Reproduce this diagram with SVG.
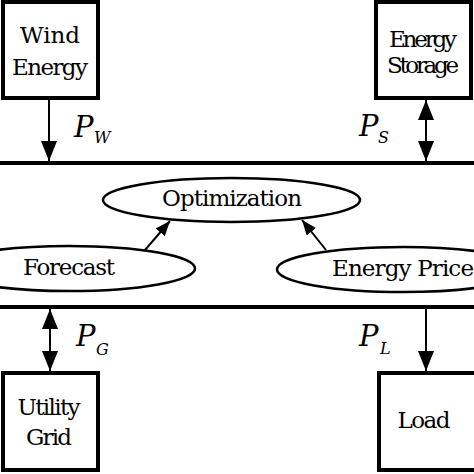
<svg xmlns="http://www.w3.org/2000/svg" width="474" height="474" viewBox="0 0 474 474">
<style>
.box{fill:#fff;stroke:#000;stroke-width:4}
.ell{fill:#fff;stroke:#000;stroke-width:2.5}
.bus{stroke:#000;stroke-width:4}
.con{stroke:#000;stroke-width:2;fill:none}
text{font-family:"DejaVu Serif","Liberation Serif",serif}
.lbl{font-size:23px;text-anchor:middle}
.p{font-size:29px;font-style:italic}
.sub{font-size:16px;font-style:italic}
</style>
<defs>
<marker id="ah" markerUnits="userSpaceOnUse" markerWidth="20" markerHeight="18" refX="20" refY="9" orient="auto-start-reverse">
<path d="M0,1 L20,9 L0,17 Z" fill="#000"/>
</marker>
<marker id="as" markerUnits="userSpaceOnUse" markerWidth="15" markerHeight="12" refX="15" refY="6" orient="auto">
<path d="M0,0 L15,6 L0,12 Z" fill="#000"/>
</marker>
</defs>
<g id="buses">
<line class="bus" x1="0" y1="163" x2="474" y2="163"/>
<line class="bus" x1="0" y1="307" x2="474" y2="307"/>
</g>
<g id="wind">
<rect class="box" x="3" y="2" width="95" height="96"/>
<text class="lbl" x="50" y="43" textLength="60">Wind</text>
<text class="lbl" x="50" y="75" textLength="76">Energy</text>
</g>
<g id="storage">
<rect class="box" x="376" y="2" width="95" height="96"/>
<text class="lbl" x="423" y="47" font-size="21" textLength="68">Energy</text>
<text class="lbl" x="423" y="73" font-size="21" textLength="72">Storage</text>
</g>
<g id="grid">
<rect class="box" x="3" y="373" width="95" height="97"/>
<text class="lbl" x="49" y="415" font-size="22" textLength="63">Utility</text>
<text class="lbl" x="49" y="445" font-size="22" textLength="46">Grid</text>
</g>
<g id="load">
<rect class="box" x="379" y="373" width="100" height="97"/>
<text class="lbl" x="424" y="428" textLength="53">Load</text>
</g>
<g id="optimization">
<ellipse class="ell" cx="231.5" cy="200" rx="128.5" ry="22"/>
<text x="162" y="206" font-size="23" textLength="140">Optimization</text>
</g>
<g id="forecast">
<ellipse class="ell" cx="69" cy="268.5" rx="126" ry="22.5"/>
<text x="23" y="275" font-size="23" textLength="92">Forecast</text>
</g>
<g id="prices">
<ellipse class="ell" cx="403" cy="269.5" rx="126" ry="22.5"/>
<text x="332" y="276" font-size="23" textLength="142">Energy Price</text>
</g>
<g id="connectors">
<line class="con" x1="49" y1="100" x2="49" y2="161" marker-end="url(#ah)"/>
<line class="con" x1="426" y1="100" x2="426" y2="161" marker-start="url(#ah)" marker-end="url(#ah)"/>
<line class="con" x1="50" y1="309" x2="50" y2="371" marker-start="url(#ah)" marker-end="url(#ah)"/>
<line class="con" x1="426" y1="309" x2="426" y2="371" marker-end="url(#ah)"/>
<line class="con" x1="145" y1="250" x2="170" y2="221" marker-end="url(#as)"/>
<line class="con" x1="326" y1="250" x2="302" y2="220" marker-end="url(#as)"/>
</g>
<g id="labels">
<text class="p" x="74" y="137">P</text><text class="sub" x="94" y="143">W</text>
<text class="p" x="359" y="136">P</text><text class="sub" x="378" y="143">S</text>
<text class="p" x="76" y="346">P</text><text class="sub" x="96" y="355">G</text>
<text class="p" x="359" y="346">P</text><text class="sub" x="380" y="354">L</text>
</g>
</svg>
